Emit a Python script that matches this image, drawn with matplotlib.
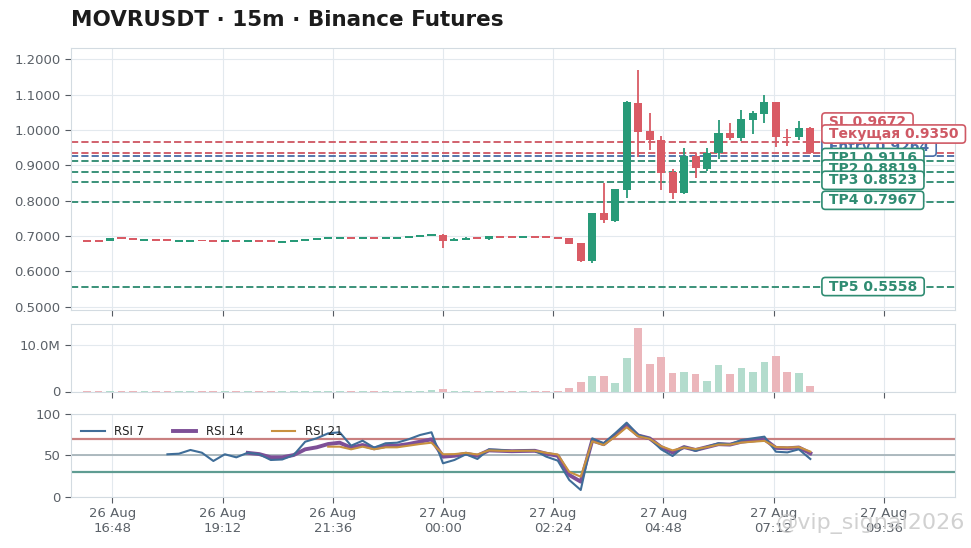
import matplotlib
matplotlib.use("Agg")
import matplotlib.pyplot as plt
import matplotlib.dates as mdates
from matplotlib.ticker import MultipleLocator, FuncFormatter, FixedLocator
import numpy as np
import pandas as pd

# ---------------- data ----------------
start_time = "2025-08-26 16:15"
n_candles = 64

opens = [0.6870, 0.6856, 0.6850, 0.6960, 0.6942, 0.6885, 0.6892, 0.6885, 0.6858, 0.6860,
         0.6882, 0.6862, 0.6836, 0.6866, 0.6852, 0.6862, 0.6860, 0.6832, 0.6840, 0.6866,
         0.6905, 0.6922, 0.6942, 0.6958, 0.6925, 0.6958, 0.6928, 0.6950, 0.6955, 0.6985,
         0.7005, 0.7042, 0.6880, 0.6905, 0.6950, 0.6905, 0.6990, 0.6988, 0.6970, 0.6990,
         0.6975, 0.6950, 0.6930, 0.6790, 0.6292, 0.7642, 0.7430, 0.8300, 1.0755, 0.9971,
         0.9716, 0.8802, 0.8225, 0.9264, 0.8896, 0.9357, 0.9906, 0.9764, 1.0283, 1.0444,
         1.0783, 0.9810, 0.9810, 1.0047]
highs = [0.6876, 0.6860, 0.6948, 0.6978, 0.6946, 0.6915, 0.6895, 0.6888, 0.6868, 0.6885,
         0.6886, 0.6866, 0.6864, 0.6869, 0.6863, 0.6866, 0.6864, 0.6845, 0.6870, 0.6910,
         0.6935, 0.6952, 0.6965, 0.6962, 0.6962, 0.6962, 0.6962, 0.6962, 0.6995, 0.7012,
         0.7070, 0.7050, 0.6945, 0.6958, 0.6955, 0.6995, 0.6995, 0.7012, 0.6985, 0.6995,
         0.6982, 0.6958, 0.6940, 0.6800, 0.7650, 0.8508, 0.8330, 1.0810, 1.1697, 1.0490,
         0.9830, 0.8896, 0.9482, 0.9340, 0.9482, 1.0283, 1.0190, 1.0565, 1.0537, 1.0990,
         1.0790, 1.0020, 1.0254, 1.0076]
lows = [0.6846, 0.6842, 0.6845, 0.6930, 0.6898, 0.6878, 0.6872, 0.6864, 0.6852, 0.6856,
        0.6858, 0.6832, 0.6832, 0.6850, 0.6848, 0.6852, 0.6832, 0.6828, 0.6836, 0.6862,
        0.6900, 0.6918, 0.6938, 0.6920, 0.6920, 0.6918, 0.6925, 0.6945, 0.6950, 0.6980,
        0.6995, 0.6660, 0.6870, 0.6900, 0.6905, 0.6900, 0.6968, 0.6970, 0.6965, 0.6965,
        0.6938, 0.6915, 0.6770, 0.6256, 0.6227, 0.7359, 0.7405, 0.8067, 0.9244, 0.9434,
        0.8302, 0.8038, 0.8180, 0.8650, 0.8840, 0.9180, 0.9716, 0.9690, 0.9878, 1.0190,
        0.9527, 0.9550, 0.9716, 0.9330]
closes = [0.6852, 0.6848, 0.6938, 0.6942, 0.6905, 0.6895, 0.6878, 0.6868, 0.6864, 0.6880,
          0.6862, 0.6838, 0.6860, 0.6855, 0.6860, 0.6856, 0.6838, 0.6840, 0.6866, 0.6905,
          0.6930, 0.6945, 0.6958, 0.6925, 0.6958, 0.6922, 0.6958, 0.6958, 0.6990, 0.7008,
          0.7042, 0.6850, 0.6920, 0.6950, 0.6912, 0.6990, 0.6975, 0.6978, 0.6982, 0.6972,
          0.6945, 0.6922, 0.6780, 0.6292, 0.7642, 0.7453, 0.8322, 1.0783, 0.9951, 0.9716,
          0.8774, 0.8225, 0.9264, 0.8916, 0.9357, 0.9906, 0.9764, 1.0302, 1.0472, 1.0783,
          0.9810, 0.9764, 1.0047, 0.9350]
volumes_m = [0.004, 0.003, 0.006, 0.005, 0.004, 0.003, 0.003, 0.004, 0.003, 0.004,
             0.003, 0.005, 0.004, 0.003, 0.003, 0.003, 0.004, 0.003, 0.004, 0.005,
             0.005, 0.004, 0.004, 0.005, 0.004, 0.005, 0.004, 0.003, 0.006, 0.008,
             0.25, 0.50, 0.008, 0.006, 0.005, 0.007, 0.004, 0.005, 0.004, 0.004,
             0.006, 0.007, 0.72, 2.00, 3.26, 3.26, 1.80, 7.20, 13.80, 6.00,
             7.50, 4.00, 4.20, 3.85, 2.25, 5.80, 3.85, 5.10, 4.20, 6.40,
             7.70, 4.20, 4.05, 1.10]

rsi7_vals = [51.3, 52.0, 56.5, 53.2, 43.2, 51.3, 47.6, 53.2, 51.3, 44.4,
             45.0, 50.4, 66.5, 70.6, 76.6, 77.9, 61.7, 67.7, 59.3, 64.6,
             65.3, 69.4, 74.6, 77.9, 40.4, 44.4, 51.3, 45.6, 57.3, 56.5,
             55.3, 55.7, 55.7, 48.4, 43.6, 20.2, 8.1, 70.6, 64.6, 76.7,
             89.5, 74.6, 70.6, 57.3, 49.2, 60.5, 55.3, 60.5, 64.6, 63.3,
             68.6, 70.6, 72.6, 54.4, 53.6, 57.3, 45.6]
rsi14_vals = [53.0, 51.5, 47.6, 47.6, 50.4, 57.3, 59.7, 63.7, 65.3, 59.3,
              62.5, 58.5, 61.3, 61.7, 63.7, 66.5, 69.4, 48.4, 49.5, 52.0,
              49.5, 56.0, 55.5, 55.0, 55.3, 55.5, 52.0, 49.5, 26.2, 18.2,
              68.0, 63.5, 74.5, 86.5, 74.0, 70.5, 60.0, 53.5, 60.0, 56.5,
              60.0, 63.5, 63.0, 66.5, 68.0, 69.5, 59.0, 58.5, 59.5, 52.5]
rsi21_vals = [60.5, 60.5, 57.3, 60.5, 57.3, 59.7, 59.7, 61.7, 63.7, 65.3,
              51.3, 51.5, 53.0, 51.0, 56.0, 55.5, 55.3, 55.5, 55.5, 53.0,
              51.0, 30.0, 24.2, 67.0, 62.5, 72.5, 84.0, 73.0, 70.0, 61.0,
              56.0, 59.5, 57.5, 60.0, 63.0, 63.0, 65.5, 66.5, 67.5, 60.0,
              59.5, 60.0, 54.5]

level_names = ["SL", "Entry", "TP1", "TP2", "TP3", "TP4", "TP5", "Текущая"]
level_values = [0.9672, 0.9264, 0.9116, 0.8819, 0.8523, 0.7967, 0.5558, 0.9350]
# label anchor heights (spread apart so they do not stack)
label_y = [1.0226, 0.9518, 0.9221, 0.8896, 0.8576, 0.8010, 0.5570, 0.9886]

title = "MOVRUSDT · 15m · Binance Futures"

# ---------------- style ----------------
GREEN = "#289a78"
RED = "#d95b65"
TP_C = "#2f8c72"
SL_C = "#cf5965"
ENTRY_C = "#4a6ea8"
level_colors = [SL_C, ENTRY_C, TP_C, TP_C, TP_C, TP_C, TP_C, SL_C]
GRID = "#e3e9ee"
SPINE = "#d3dbe1"
TICK_C = "#5b6168"

W, H = 971, 548
fig = plt.figure(figsize=(W / 100, H / 100), dpi=100)


def frac(l, t, r, b):
    return [l / W, 1 - b / H, (r - l) / W, (b - t) / H]


ax_p = fig.add_axes(frac(71, 48, 955, 310))
ax_v = fig.add_axes(frac(71, 324, 955, 391.5), sharex=ax_p)
ax_r = fig.add_axes(frac(71, 414, 955, 496.7), sharex=ax_p)

times = pd.date_range(start_time, periods=n_candles, freq="15min")
x = mdates.date2num(times.to_pydatetime())
step = 1 / 96.0

o = np.array(opens); h = np.array(highs); l = np.array(lows); c = np.array(closes)
up = c >= o
cols = np.where(up, GREEN, RED)

# level lines
for name, val, col in zip(level_names, level_values, level_colors):
    ax_p.axhline(val, color=col, ls="--", lw=1.4, alpha=0.95, zorder=1.5)

# candles
ax_p.vlines(x, l, h, colors=cols, lw=1.3, zorder=3)
body_bottom = np.minimum(o, c)
body_h = np.abs(c - o)
min_h = 0.0055
body_bottom = np.where(body_h < min_h, (o + c) / 2 - min_h / 2, body_bottom)
body_h = np.maximum(body_h, min_h)
ax_p.bar(x, body_h, bottom=body_bottom, width=0.7 * step, color=cols, zorder=4, linewidth=0)

# level labels
for z, i in enumerate(range(len(level_names))):
    txt = f" {level_names[i]} {level_values[i]:.4f} "
    ax_p.text(0.8518, label_y[i], txt, transform=ax_p.get_yaxis_transform(),
              color=level_colors[i], fontsize=10, fontweight="bold", ha="left", va="center",
              bbox=dict(boxstyle="round,pad=0.15,rounding_size=0.25", fc="white",
                        ec=level_colors[i], lw=1.2),
              clip_on=False, zorder=10 + z)

ax_p.set_ylim(0.4906, 1.232)
ax_p.yaxis.set_major_locator(MultipleLocator(0.1))
ax_p.yaxis.set_major_formatter(FuncFormatter(lambda v, p: f"{v:.4f}"))

# volume
vol = np.array(volumes_m) * 1e6
vcols = np.where(up, "#b3dccd", "#ebb6bb")
ax_v.bar(x, vol, width=0.68 * step, color=vcols, linewidth=0, zorder=3)
ax_v.set_ylim(0, 14.57e6)
ax_v.yaxis.set_major_locator(FixedLocator([0, 10e6]))
ax_v.yaxis.set_major_formatter(FuncFormatter(lambda v, p: "0" if v == 0 else f"{v/1e6:.1f}M"))

# RSI
rsi7 = np.concatenate([np.full(n_candles - len(rsi7_vals), np.nan), rsi7_vals])
rsi14 = np.concatenate([np.full(n_candles - len(rsi14_vals), np.nan), rsi14_vals])
rsi21 = np.concatenate([np.full(n_candles - len(rsi21_vals), np.nan), rsi21_vals])
ax_r.axhline(70, color="#c98080", lw=1.6, zorder=2)
ax_r.axhline(50, color="#a7b4ba", lw=1.3, zorder=2)
ax_r.axhline(30, color="#5f9c92", lw=1.6, zorder=2)
ax_r.plot(x, rsi7, color="#3f6d98", lw=1.5, label="RSI 7", zorder=4)
ax_r.plot(x, rsi14, color="#7d4f97", lw=2.8, label="RSI 14", zorder=3)
ax_r.plot(x, rsi21, color="#c8913f", lw=1.5, label="RSI 21", zorder=5)
ax_r.set_ylim(0, 100)
ax_r.yaxis.set_major_locator(FixedLocator([0, 50, 100]))
leg = ax_r.legend(loc="upper left", ncol=3, frameon=False, fontsize=8.5,
                  handlelength=2.0, columnspacing=2.4, bbox_to_anchor=(0.002, 0.965),
                  borderaxespad=0.3)
for t in leg.get_texts():
    t.set_color("#222222")

# x axis
x0 = mdates.date2num(pd.Timestamp("2025-08-26 15:54").to_pydatetime())
x1 = mdates.date2num(pd.Timestamp("2025-08-27 11:09").to_pydatetime())
ax_p.set_xlim(x0, x1)


def xfmt(v, pos):
    d = mdates.num2date(round(v * 1440) / 1440)
    return d.strftime("%d %b\n%H:%M")


ax_r.xaxis.set_major_locator(MultipleLocator(0.1))
ax_r.xaxis.set_major_formatter(FuncFormatter(xfmt))

for ax in (ax_p, ax_v, ax_r):
    ax.grid(True, color=GRID, lw=0.8)
    ax.set_axisbelow(True)
    for s in ax.spines.values():
        s.set_color(SPINE)
        s.set_linewidth(0.8)
    ax.tick_params(axis="both", colors="#555b62", labelsize=9.5, length=4, width=0.8,
                   direction="out")
    ax.tick_params(axis="both", labelcolor=TICK_C)
    ax.set_facecolor("white")
ax_p.tick_params(labelbottom=False)
ax_v.tick_params(labelbottom=False)

fig.text(71 / W, 1 - 20 / H, title, fontsize=15.5, fontweight="bold", color="#1c1c1c",
         ha="left", va="center")

# watermark overlay
fig.text(775 / W, 1 - 523 / H, "@vip_signal2026", fontsize=16, color="#c9c9c9",
         alpha=0.85, ha="left", va="center")

fig.savefig("out.png", dpi=100, facecolor="white")
